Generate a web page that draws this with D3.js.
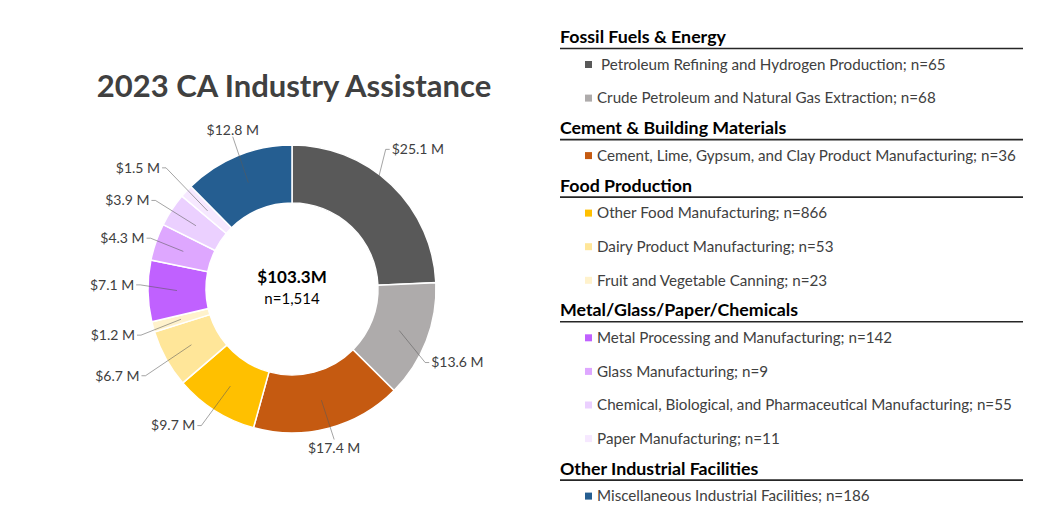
<!DOCTYPE html>
<html><head><meta charset="utf-8">
<script src="https://cdn.jsdelivr.net/npm/d3@7"></script>
<style>
body{margin:0;background:#fff;}
svg{display:block;font-family:Lato,"Open Sans",sans-serif;}
</style></head>
<body>
<svg id="chart" width="1057" height="531"></svg>
<script>
// ---- data ----
const categories = [
  "Petroleum Refining and Hydrogen Production",
  "Crude Petroleum and Natural Gas Extraction",
  "Cement, Lime, Gypsum, and Clay Product Manufacturing",
  "Other Food Manufacturing",
  "Dairy Product Manufacturing",
  "Fruit and Vegetable Canning",
  "Metal Processing and Manufacturing",
  "Glass Manufacturing",
  "Chemical, Biological, and Pharmaceutical Manufacturing",
  "Paper Manufacturing",
  "Miscellaneous Industrial Facilities"
];
const valuesM = [25.1, 13.6, 17.4, 9.7, 6.7, 1.2, 7.1, 4.3, 3.9, 1.5, 12.8];
const counts = [65, 68, 36, 866, 53, 23, 142, 9, 55, 11, 186];
const colors = ["#595959","#AEABAB","#C55A11","#FFC000","#FFE699","#FFF2CC",
                "#C061FF","#DEA7FF","#EBD0FF","#F6E8FF","#255E91"];
const groupNames = ["Fossil Fuels & Energy","Cement & Building Materials","Food Production",
                    "Metal/Glass/Paper/Chemicals","Other Industrial Facilities"];
const groupMembers = [[0,1],[2],[3,4,5],[6,7,8,9],[10]];
const title = "2023 CA Industry Assistance";
const totalLabel = "$103.3M";
const countLabel = "n=1,514";

// ---- label layout (radius from centre, angular nudge in degrees) ----
const labelRadius = [188, 181, 165, 181, 195, 185, 180, 177, 187, 196, 170];
const labelNudgeDeg = [-1.7, 2.8, 0, 8.6, 2.6, 0.8, 2.1, -2.4, -5.1, -4.6, 1.9];

// ---- drawing ----
const svg = d3.select("#chart");
const cx = 292, cy = 289, rOuter = 144, rInner = 86;

svg.append("text").attr("x", 294).attr("y", 97).attr("text-anchor","middle")
  .attr("font-size", 31).attr("font-weight", 700).attr("fill","#404040").text(title);

const data = categories.map((c,i)=>({name:c, value:valuesM[i], n:counts[i], color:colors[i], i}));
const pie = d3.pie().sort(null).value(d=>d.value);
const arcs = pie(data);
const arc = d3.arc().innerRadius(rInner).outerRadius(rOuter);
const g = svg.append("g").attr("transform",`translate(${cx},${cy})`);

g.selectAll("path.slice").data(arcs).join("path").attr("class","slice")
  .attr("d", arc).attr("fill", d=>d.data.color)
  .attr("stroke","#fff").attr("stroke-width",1.5);

// labels
const fmt = v => "$" + d3.format(".1f")(v) + " M";
const mid = d => (d.startAngle + d.endAngle)/2;
const lab = g.append("g");
arcs.forEach(d=>{
  const i = d.data.i;
  const a = mid(d) + labelNudgeDeg[i]*Math.PI/180;
  const R = labelRadius[i];
  const c = arc.centroid(d);
  const lx = R*Math.sin(a), ly = -R*Math.cos(a);
  const t = lab.append("text").attr("x", lx).attr("y", ly).attr("dy","0.35em")
    .attr("text-anchor","middle").attr("font-size",14).attr("fill","#404040").text(fmt(d.data.value));
  const w = t.node().getComputedTextLength();
  const deg = ((a*180/Math.PI)%360+360)%360;
  let pts;
  if (deg < 30 || deg > 330) {            // top: attach to bottom centre
    pts = `${c[0]},${c[1]} ${lx},${ly+7}`;
  } else if (deg > 150 && deg < 210) {     // bottom: attach to top centre
    pts = `${c[0]},${c[1]} ${lx},${ly-9}`;
  } else {
    const right = Math.sin(a) >= 0;
    const ex = right ? lx - w/2 - 2 : lx + w/2 + 2;
    const kx = right ? ex - 4 : ex + 4;
    pts = `${c[0]},${c[1]} ${kx},${ly} ${ex},${ly}`;
  }
  lab.insert("polyline","text").attr("points", pts)
    .attr("fill","none").attr("stroke","#595959").attr("stroke-opacity",0.55).attr("stroke-width",1);
});

g.append("text").attr("x",0).attr("y",-12).attr("text-anchor","middle").attr("dy","0.35em")
  .attr("font-size",17).attr("font-weight",700).attr("fill","#000").text(totalLabel);
g.append("text").attr("x",0).attr("y",10).attr("text-anchor","middle").attr("dy","0.35em")
  .attr("font-size",15).attr("fill","#000").text(countLabel);

// legend
const leg = svg.append("g");
const lx0 = 560, lx1 = 1023;
let y = 43;
groupNames.forEach((gn, gi)=>{
  leg.append("text").attr("x", lx0).attr("y", y).attr("font-size",17.8).attr("font-weight",700)
    .attr("fill","#000").text(gn);
  leg.append("line").attr("x1",lx0).attr("x2",lx1).attr("y1",y+5.5).attr("y2",y+5.5)
    .attr("stroke","#262626").attr("stroke-width",1.6);
  let iy = y + 21.5;
  groupMembers[gi].forEach((idx, k)=>{
    if (k>0) iy += 33.6;
    leg.append("rect").attr("x",585).attr("y",iy-3.5).attr("width",7).attr("height",7).attr("fill",colors[idx]);
    leg.append("text").attr("x", idx===0 ? 601 : 597).attr("y", iy).attr("dy","0.35em")
      .attr("font-size",15.2).attr("fill","#404040").text(categories[idx] + "; n=" + counts[idx]);
  });
  y = iy + 36;
});
</script>
</body></html>
